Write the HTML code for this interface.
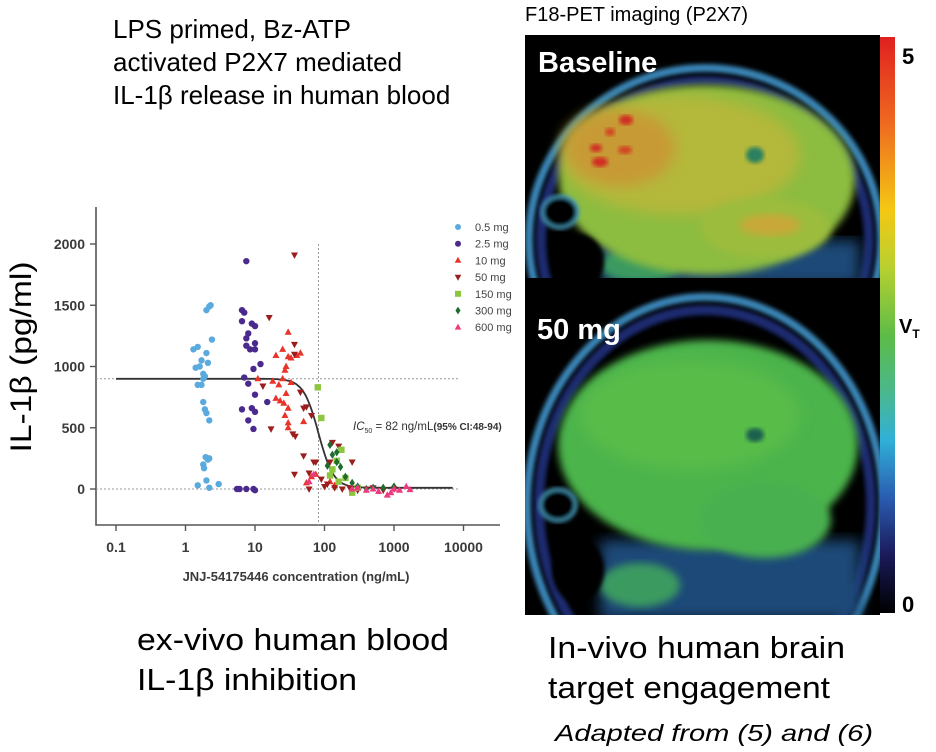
<!DOCTYPE html>
<html><head><meta charset="utf-8"><style>
html,body{margin:0;padding:0;background:#fff;}
svg{display:block;font-family:"Liberation Sans",sans-serif;}
</style></head><body>
<svg id="fig" width="936" height="752" viewBox="0 0 936 752" xmlns="http://www.w3.org/2000/svg">
<defs>
<filter id="b2"><feGaussianBlur stdDeviation="2"/></filter>
<filter id="b4"><feGaussianBlur stdDeviation="4"/></filter>
<filter id="b7"><feGaussianBlur stdDeviation="7"/></filter>
<linearGradient id="cbar" x1="0" y1="0" x2="0" y2="1">
<stop offset="0" stop-color="#e02020"/><stop offset="0.15" stop-color="#ef6a20"/>
<stop offset="0.3" stop-color="#f5c814"/><stop offset="0.4" stop-color="#b8d030"/>
<stop offset="0.52" stop-color="#5cbc48"/><stop offset="0.62" stop-color="#4ab890"/>
<stop offset="0.7" stop-color="#30b0d8"/><stop offset="0.8" stop-color="#2a5cb0"/>
<stop offset="0.9" stop-color="#1a1a5a"/><stop offset="1" stop-color="#000"/>
</linearGradient>
<clipPath id="topc"><rect x="525" y="35" width="355" height="243"/></clipPath>
<clipPath id="botc"><rect x="525" y="280" width="355" height="335"/></clipPath>
</defs>

<g font-size="26" fill="#000">
<text x="113" y="38">LPS primed, Bz-ATP</text>
<text x="113" y="71">activated P2X7 mediated</text>
<text x="113" y="104">IL-1β release in human blood</text>
</g>
<text x="525" y="21" font-size="20">F18-PET imaging (P2X7)</text>
<g font-size="31">
<text x="137" y="650" textLength="312" lengthAdjust="spacingAndGlyphs">ex-vivo human blood</text>
<text x="137" y="690" textLength="220" lengthAdjust="spacingAndGlyphs">IL-1β inhibition</text>
</g>
<g font-size="31">
<text x="548" y="658" textLength="297" lengthAdjust="spacingAndGlyphs">In-vivo human brain</text>
<text x="548" y="698" textLength="282" lengthAdjust="spacingAndGlyphs">target engagement</text>
<text x="555" y="741" font-size="23" font-style="italic" textLength="318" lengthAdjust="spacingAndGlyphs">Adapted from (5) and (6)</text>
</g>

<g>
<rect x="525" y="35" width="355" height="580" fill="#000"/>
<g clip-path="url(#topc)">
<ellipse cx="705" cy="240" rx="176" ry="172" fill="none" stroke="#3a86b8" stroke-width="8" filter="url(#b2)"/>
<ellipse cx="705" cy="240" rx="164" ry="159" fill="none" stroke="#1a2a70" stroke-width="10" filter="url(#b2)"/>
<rect x="600" y="240" width="260" height="45" fill="#1e4a78" filter="url(#b7)"/>
<ellipse cx="640" cy="265" rx="40" ry="18" fill="#3a9a60" filter="url(#b4)"/>
<ellipse cx="707" cy="180" rx="148" ry="95" fill="#8cbc40" filter="url(#b4)"/>
<ellipse cx="680" cy="155" rx="120" ry="60" fill="#b4b83a" filter="url(#b7)"/>
<ellipse cx="620" cy="148" rx="55" ry="38" fill="#c89a34" filter="url(#b7)"/>
<ellipse cx="600" cy="162" rx="8" ry="5" fill="#d02a20" filter="url(#b2)"/>
<ellipse cx="596" cy="148" rx="6" ry="4" fill="#d02a20" filter="url(#b2)"/>
<ellipse cx="626" cy="120" rx="7" ry="5" fill="#d02a20" filter="url(#b2)"/>
<ellipse cx="610" cy="132" rx="5" ry="4" fill="#d04020" filter="url(#b2)"/>
<ellipse cx="625" cy="150" rx="7" ry="4" fill="#d04020" filter="url(#b2)"/>
<ellipse cx="765" cy="228" rx="65" ry="30" fill="#9cbc3c" filter="url(#b4)"/>
<ellipse cx="770" cy="225" rx="30" ry="11" fill="#c8a838" filter="url(#b4)"/>
<ellipse cx="755" cy="155" rx="9" ry="8" fill="#2a8060" filter="url(#b2)"/>
<ellipse cx="560" cy="212" rx="18" ry="16" fill="#000" stroke="#4aa0c0" stroke-width="3" filter="url(#b2)"/>
<ellipse cx="578" cy="262" rx="26" ry="28" fill="#000" filter="url(#b2)"/>
<text x="538" y="72" font-size="29" font-weight="bold" fill="#fff">Baseline</text>
</g>
<g clip-path="url(#botc)">
<ellipse cx="705" cy="505" rx="178" ry="208" fill="none" stroke="#3a86b8" stroke-width="8" filter="url(#b2)"/>
<ellipse cx="705" cy="505" rx="166" ry="195" fill="none" stroke="#1a2a70" stroke-width="10" filter="url(#b2)"/>
<rect x="600" y="540" width="260" height="80" fill="#1e4a78" filter="url(#b7)"/>
<ellipse cx="640" cy="585" rx="40" ry="22" fill="#3a9a60" filter="url(#b4)"/>
<ellipse cx="708" cy="445" rx="150" ry="105" fill="#4cb44c" filter="url(#b4)"/>
<ellipse cx="690" cy="415" rx="110" ry="55" fill="#58bc48" filter="url(#b7)"/>
<ellipse cx="765" cy="520" rx="66" ry="38" fill="#48b050" filter="url(#b4)"/>
<ellipse cx="755" cy="435" rx="9" ry="7" fill="#1a6050" filter="url(#b2)"/>
<ellipse cx="558" cy="505" rx="18" ry="16" fill="#000" stroke="#4aa0c0" stroke-width="3" filter="url(#b2)"/>
<ellipse cx="578" cy="570" rx="26" ry="32" fill="#000" filter="url(#b2)"/>
<text x="537" y="339" font-size="29" font-weight="bold" fill="#fff">50 mg</text>
</g>
<rect x="880" y="37" width="15" height="576" fill="url(#cbar)"/>
<text x="902" y="64" font-size="22" font-weight="bold">5</text>
<text x="902" y="612" font-size="22" font-weight="bold">0</text>
<text x="899" y="333" font-size="20" font-weight="bold">V<tspan font-size="12" dy="5">T</tspan></text>
</g>

<g id="chart"></g>
</svg>
<script>
const xTicks=[0.1,1,10,100,1000,10000];
const xTickLabels=["0.1","1","10","100","1000","10000"];
const yTicks=[0,500,1000,1500,2000];
const seriesNames=["0.5 mg","2.5 mg","10 mg","50 mg","150 mg","300 mg","600 mg"];
const seriesColors=["#5aaade","#4a2a8c","#e8342a","#9b1e1e","#8cc63f","#1e6b2e","#ec3a80"];
const seriesShapes=["circle","circle","up","down","square","diamond","up"];
const conc05=[2.2,2.3,2.0,2.4,1.3,1.5,2.0,1.7,2.1,1.6,1.4,1.8,1.9,1.8,1.5,1.7,1.8,1.9,2.0,2.2,1.95,2.1,2.2,1.8,1.85,2.0,1.5,2.2,3.0];
const val05=[1490,1500,1460,1220,1140,1160,1110,1050,1030,1000,990,940,920,900,850,850,710,650,620,560,260,240,250,200,170,70,30,10,40];
const conc25=[7.5,6.5,7,6.5,9,10,8,7.5,10,7.5,8.5,10,12,9.5,7,8,10,15,6.5,9,10,8,9.5,5.5,6,7.5,9.5,10];
const val25=[1860,1460,1440,1370,1350,1330,1270,1230,1190,1170,1140,1140,1020,980,910,860,770,710,650,660,630,560,490,0,0,0,0,-10];
const conc10=[30,25,20,30,33,40,45,28,27,11,18,25,33,22,28,20,23,26,30,27,30,30,50,65,55,75,120,140];
const val10=[1280,1140,1090,1080,1070,1090,1110,1000,970,900,880,900,870,850,780,740,720,700,660,600,540,500,550,100,50,120,60,30];
const conc50=[37,16,37,37,13,45,55,50,65,17,35,38,50,70,75,37,60,120,130,160,250,90,110,60,100,140,180,230,300,400,500,700,1000];
const val50=[1910,1400,1180,1100,840,790,670,660,600,490,450,430,270,220,220,120,130,220,380,350,220,80,40,0,20,10,0,10,-10,0,10,-10,0];
const conc150=[80,90,175,150,120,200,160,250,300,130];
const val150=[830,580,320,230,110,90,60,-30,10,160];
const conc300=[120,150,110,150,200,250,300,500,1000,130,170,400,700];
const val300=[360,300,190,220,100,50,20,10,20,280,180,0,10];
const conc600=[70,60,300,400,500,600,800,1000,1200,1500,1700,250,900];
const val600=[120,60,10,-10,0,-20,-50,0,-10,20,-5,0,-30];
const fitTop=[900], fitBottom=[10], fitIC50=[82], fitHill=[4], fitRange=[0.1,7000];

const NS="http://www.w3.org/2000/svg";
const g=document.getElementById('chart');
const X0=116,DEC=69.5,Y0=489,YS=0.1225;
function xs(c){return X0+(Math.log10(c)+1)*DEC;}
function ys(v){return Y0-v*YS;}
function mk(tag,attrs,parent){const e=document.createElementNS(NS,tag);for(const k in attrs)e.setAttribute(k,attrs[k]);(parent||g).appendChild(e);return e;}

let ax=mk('path',{d:`M96 207 V525 H500`,stroke:'#555',fill:'none','stroke-width':1.6});


yTicks.forEach(v=>{
 let t=mk('line',{x1:90,x2:96,y1:ys(v),y2:ys(v),stroke:'#555','stroke-width':1.4});
 
 
 let l=mk('text',{x:85,y:ys(v)+5,'text-anchor':'end','font-size':14,'font-weight':'bold',fill:'#3a3a3a'});
 l.textContent=String(v);
 
 
});
xTicks.forEach((c,i)=>{
 let t=mk('line',{x1:xs(c),x2:xs(c),y1:525,y2:531,stroke:'#555','stroke-width':1.4});
 
 
 let l=mk('text',{x:xs(c),y:552,'text-anchor':'middle','font-size':14,'font-weight':'bold',fill:'#3a3a3a'});
 l.textContent=xTickLabels[i];
 
 
});
let xt=mk('text',{x:296,y:581,'text-anchor':'middle','font-size':13,'font-weight':'bold',fill:'#3a3a3a'});
xt.textContent='JNJ-54175446 concentration (ng/mL)';


let yt=mk('text',{x:0,y:0,'text-anchor':'middle','font-size':30,fill:'#000',transform:'translate(31,357) rotate(-90)',textLength:191,lengthAdjust:'spacingAndGlyphs'});
yt.textContent='IL-1β (pg/ml)';



[fitTop[0],0].forEach(v=>{
 let r=mk('line',{x1:xs(0.1)-20,x2:460,y1:ys(v),y2:ys(v),stroke:'#999','stroke-width':1,'stroke-dasharray':'2,2'});
 
 
});
let vr=mk('line',{x1:xs(fitIC50[0]),x2:xs(fitIC50[0]),y1:ys(2000),y2:525,stroke:'#999','stroke-width':1,'stroke-dasharray':'2,2'});



let pts=[];
const lo=Math.log10(fitRange[0]),hi=Math.log10(fitRange[1]);
for(let i=0;i<=200;i++){const c=Math.pow(10,lo+(hi-lo)*i/200);const v=fitBottom[0]+(fitTop[0]-fitBottom[0])/(1+Math.pow(c/fitIC50[0],fitHill[0]));pts.push(xs(c).toFixed(1)+','+ys(v).toFixed(1));}
let fc=mk('polyline',{points:pts.join(' '),fill:'none',stroke:'#333','stroke-width':1.8});



function marker(shape,x,y,color,parent,s){
 s=s||3.2;let e;
 if(shape==='circle')e=mk('circle',{cx:x,cy:y,r:s,fill:color},parent);
 else if(shape==='square')e=mk('rect',{x:x-s,y:y-s,width:2*s,height:2*s,fill:color},parent);
 else if(shape==='up')e=mk('polygon',{points:`${x},${y-s*1.2} ${x-s*1.1},${y+s*0.8} ${x+s*1.1},${y+s*0.8}`,fill:color},parent);
 else if(shape==='down')e=mk('polygon',{points:`${x},${y+s*1.2} ${x-s*1.1},${y-s*0.8} ${x+s*1.1},${y-s*0.8}`,fill:color},parent);
 else e=mk('polygon',{points:`${x},${y-s*1.3} ${x-s*0.85},${y} ${x},${y+s*1.3} ${x+s*0.85},${y}`,fill:color},parent);
 return e;
}
const allConc=[conc05,conc25,conc10,conc50,conc150,conc300,conc600];
const allVal=[val05,val25,val10,val50,val150,val300,val600];
allConc.forEach((cs,si)=>{
 const sg=mk('g',{});
 
 
 cs.forEach((c,i)=>{
  const m=marker(seriesShapes[si],xs(c),ys(allVal[si][i]),seriesColors[si],sg);
  
  
 });
});

let ic=mk('text',{x:353,y:430,'font-size':11.5,fill:'#333'});
ic.innerHTML='<tspan font-style="italic">IC</tspan><tspan font-size="7" dy="3">50</tspan><tspan dy="-3"> = 82 ng/mL</tspan><tspan font-weight="bold" font-size="10">(95% CI:48-94)</tspan>';



seriesNames.forEach((n,i)=>{
 const y=227+i*16.7;
 const lg=mk('g',{});
 
 
 marker(seriesShapes[i],458,y,seriesColors[i],lg,3);
 const t=mk('text',{x:475,y:y+4,'font-size':11,fill:'#444'},lg);
 t.textContent=n;
});
</script>
</body></html>
